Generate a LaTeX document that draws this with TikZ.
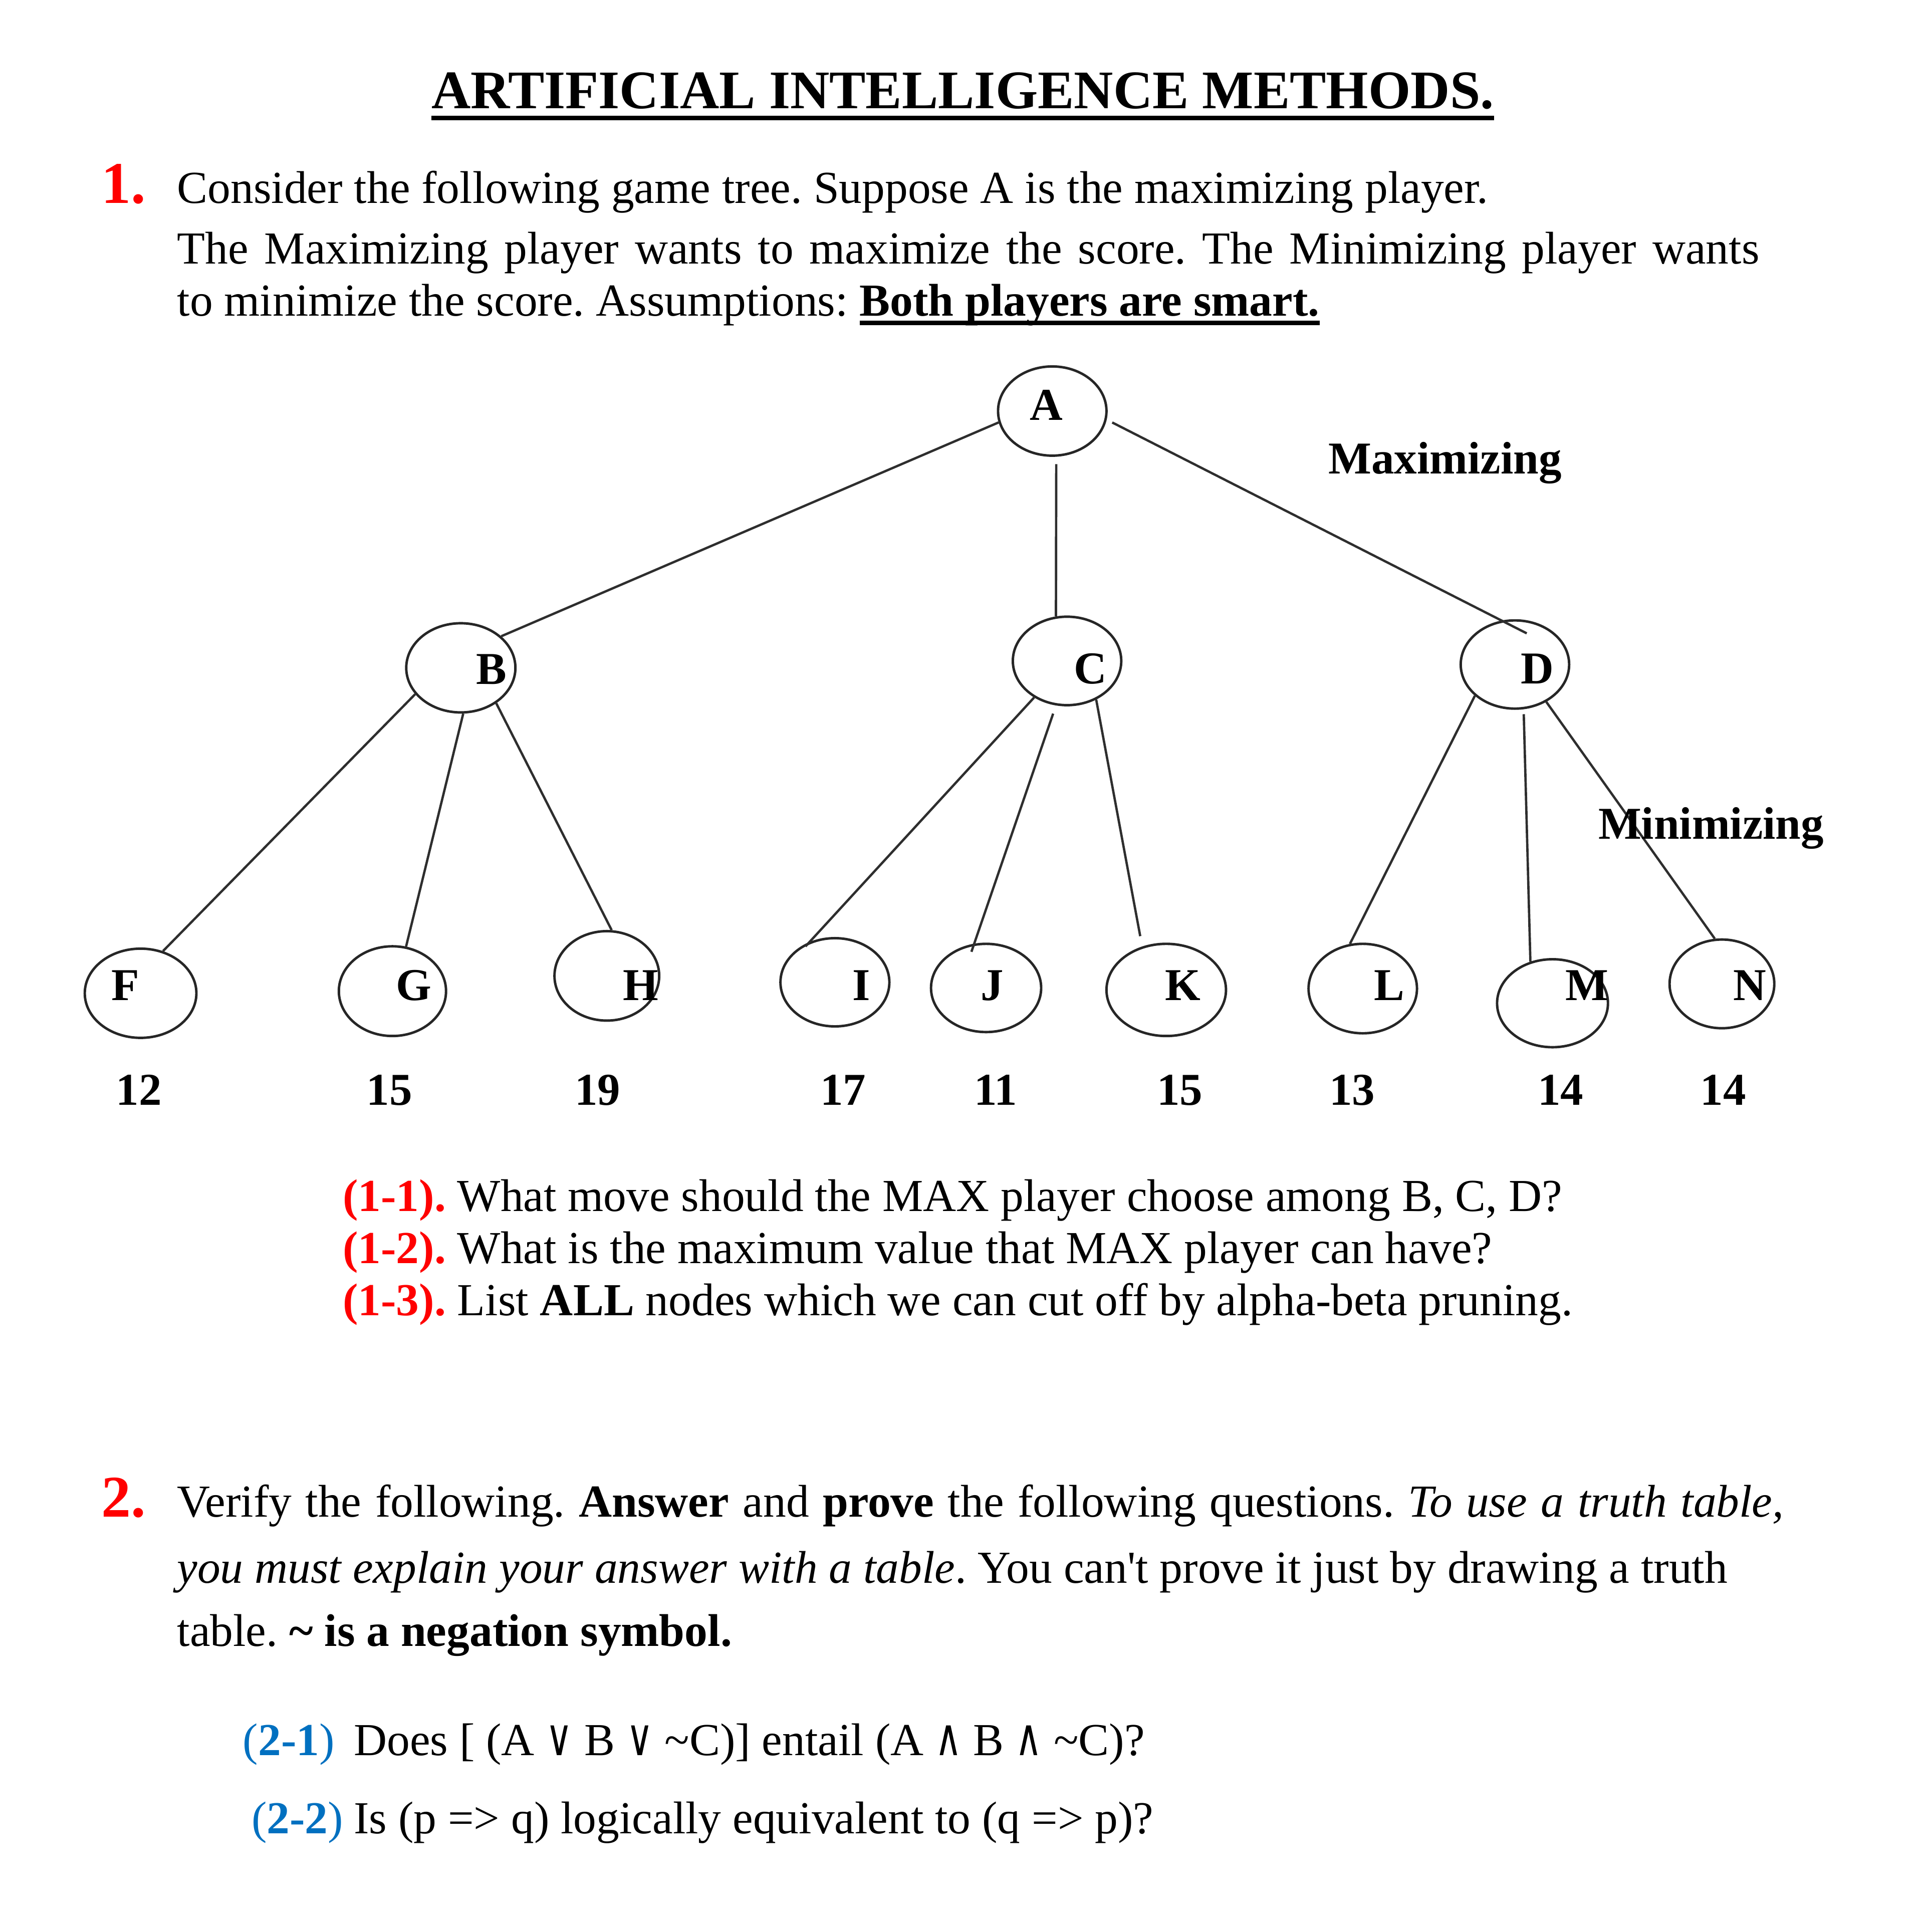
\documentclass[tikz,border=0pt]{standalone}
\usepackage{fontspec}
\usepackage{graphicx}
\setmainfont{Liberation Serif}
\newfontfamily\symf{DejaVu Sans}
\usetikzlibrary{shapes.geometric}
\definecolor{qred}{RGB}{255,0,0}
\definecolor{qblue}{RGB}{0,112,192}
\newcommand{\myul}[3]{\setbox0\hbox{#3}\rlap{\rule[-#1]{\wd0}{#2}}\box0}
\newcommand{\myor}{\scalebox{0.8}[1.12]{\symf ∨}}
\newcommand{\myand}{\scalebox{0.8}[1.12]{\symf ∧}}
\frenchspacing
\tikzset{
  nd/.style={draw=black!85, line width=2pt, ellipse, inner sep=0pt},
  edge/.style={draw=black!82, line width=1.9pt},
  lett/.style={font=\bfseries\fontsize{37}{40}\selectfont, inner sep=0pt, anchor=base},
  txt/.style={font=\fontsize{37.2}{44}\selectfont, inner sep=0pt, anchor=base west},
  btxt/.style={font=\bfseries\fontsize{37}{44}\selectfont, inner sep=0pt, anchor=base west},
  numtxt/.style={font=\bfseries\fontsize{48}{52}\selectfont, text=qred, inner sep=0pt, anchor=base west},
}
\begin{document}
\begin{tikzpicture}[x=1pt,y=-1pt]
\fill[white] (0,0) rectangle (1568,1563);
\useasboundingbox (0,0) rectangle (1568,1563);

% title and intro
\node[txt, font=\bfseries\fontsize{44.1}{50}\selectfont] (title) at (350,88.2) {\myul{9.3pt}{3.7pt}{ARTIFICIAL INTELLIGENCE METHODS.}};
\node[numtxt] (n1) at (82,165) {1.};
\node[txt] (l1) at (143.6,165) {Consider the following game tree. Suppose A is the maximizing player.};
\node[txt] (l2) at (143.6,213.9) {\makebox[1284pt][s]{The Maximizing player wants to maximize the score. The Minimizing player wants}};
\node[txt] (l3) at (143.6,256.2) {to minimize the score. Assumptions: \myul{7.7pt}{3.6pt}{\textbf{Both players are smart.}}};

% tree nodes
\node[nd, minimum width=88pt, minimum height=72.4pt] (A) at (854,333.6) {};
\node[nd, minimum width=88.6pt, minimum height=72.4pt] (B) at (374,542) {};
\node[nd, minimum width=88pt, minimum height=71.8pt] (C) at (866,536.4) {};
\node[nd, minimum width=88pt, minimum height=71.6pt] (D) at (1229.5,539.3) {};
\node[nd, minimum width=90.6pt, minimum height=72.4pt] (F) at (114.1,806.1) {};
\node[nd, minimum width=87pt, minimum height=72.8pt] (G) at (318.5,804.4) {};
\node[nd, minimum width=85pt, minimum height=72.6pt] (H) at (492.5,792) {};
\node[nd, minimum width=88.4pt, minimum height=71.6pt] (I) at (677.6,797.2) {};
\node[nd, minimum width=89.4pt, minimum height=71.6pt] (J) at (800.3,801.8) {};
\node[nd, minimum width=97pt, minimum height=74.8pt] (K) at (946.5,803.4) {};
\node[nd, minimum width=88pt, minimum height=72.6pt] (L) at (1106,802.3) {};
\node[nd, minimum width=90pt, minimum height=71.4pt] (M) at (1260,814.2) {};
\node[nd, minimum width=85pt, minimum height=72pt] (N) at (1397.5,798.5) {};

% letters
\node[lett] (tA) at (849,341) {A};
\node[lett] (tB) at (398.7,555.2) {B};
\node[lett] (tC) at (885,555) {C};
\node[lett] (tD) at (1247.5,555) {D};
\node[lett] (tF) at (101.9,812) {F};
\node[lett] (tG) at (336,812) {G};
\node[lett] (tH) at (520,812) {H};
\node[lett] (tI) at (699,812) {I};
\node[lett] (tJ) at (805.3,812) {J};
\node[lett] (tK) at (960,812) {K};
\node[lett] (tL) at (1127.5,812) {L};
\node[lett] (tM) at (1288,812) {M};
\node[lett] (tN) at (1420,812) {N};

% edges
\draw[edge] (A.192) -- (B.38);
\draw[edge, shorten <=6pt] (A.-85) -- (C.104);
\draw[edge, shorten <=5pt, shorten >=-23pt] (A.-9) -- (D.107);
\draw[edge] (B.210) -- (F.62);
\draw[edge] (B.273) -- (G.73);
\draw[edge] (B.-45) -- (H.84);
\draw[edge, shorten >=-5pt] (C.228) -- (I.122);
\draw[edge, shorten <=7pt, shorten >=-7pt] (C.256) -- (J.105);
\draw[edge, shorten >=8.5pt] (C.-53) -- (K.119);
\draw[edge] (D.218) -- (L.106);
\draw[edge, shorten <=4pt] (D.-79) -- (M.118);
\draw[edge] (D.-50) -- (N.99);

% level labels
\node[btxt] (maxl) at (1078,384.3) {Maximizing};
\node[btxt] (minl) at (1297,681) {Minimizing};

% leaf values
\node[lett] (v1) at (112.7,897) {12};
\node[lett] (v2) at (316,897) {15};
\node[lett] (v3) at (485,897) {19};
\node[lett] (v4) at (684.3,897) {17};
\node[lett] (v5) at (808,897) {11};
\node[lett] (v6) at (957.5,897) {15};
\node[lett] (v7) at (1097.5,897) {13};
\node[lett] (v8) at (1266.5,897) {14};
\node[lett] (v9) at (1398.5,897) {14};

% questions part 1
\node[txt] (q11) at (278,983) {\textcolor{qred}{\textbf{(1-1).}} What move should the MAX player choose among B, C, D?};
\node[txt] (q12) at (278,1025.5) {\textcolor{qred}{\textbf{(1-2).}} What is the maximum value that MAX player can have?};
\node[txt] (q13) at (278,1067.5) {\textcolor{qred}{\textbf{(1-3).}} List \textbf{ALL} nodes which we can cut off by alpha-beta pruning.};

% part 2
\node[numtxt] (n2) at (82,1231) {2.};
\node[txt] (s1) at (143.6,1231) {\makebox[1304pt][s]{Verify the following. \textbf{Answer} and \textbf{prove} the following questions. \textit{To use a truth table,}}};
\node[txt] (s2) at (143.6,1284.6) {\textit{you must explain your answer with a table}. You can\textquotesingle t prove it just by drawing a truth};
\node[txt] (s3) at (143.6,1335.8) {table. \textbf{\textasciitilde{} is a negation symbol.}};

\node[txt] (p21) at (197,1424.7) {\textcolor{qblue}{(\textbf{2-1})}};
\node[txt] (t21) at (287,1424.7) {Does [ (A \myor{} B \myor{} \textasciitilde C)] entail (A \myand{} B \myand{} \textasciitilde C)?};
\node[txt] (p22) at (204,1488) {\textcolor{qblue}{(\textbf{2-2})}};
\node[txt] (t22) at (287,1488) {Is (p => q) logically equivalent to (q => p)?};
\end{tikzpicture}
\end{document}
